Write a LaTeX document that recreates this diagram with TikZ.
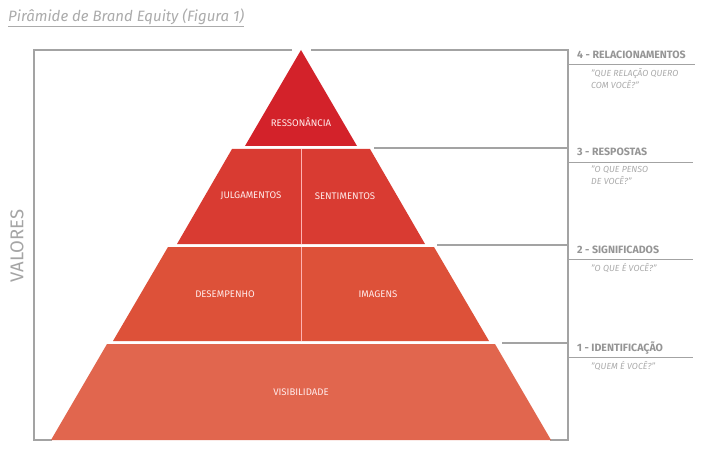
\documentclass[tikz,border=0pt]{standalone}
\usepackage{fontspec}
\setmainfont{Fira Sans}
\begin{document}
\begin{tikzpicture}[x=1pt,y=-1pt,
  frameline/.style={draw=lineGray,line width=1.1pt},
  tierlbl/.style={text=white!92!red,font=\fontsize{9.6}{10}\selectfont,inner sep=0pt},
  lvllbl/.style={text=lblGray,font=\bfseries\fontsize{10.6}{11}\selectfont,anchor=base west,inner sep=0pt},
  quote/.style={text=quoteGray,font=\itshape\fontsize{8.8}{12}\selectfont,anchor=north west,inner sep=0pt,align=left},
  divider/.style={draw=white!70!red,line width=0.9pt}]
\definecolor{lineGray}{HTML}{A3A3A3}
\definecolor{lblGray}{HTML}{959595}
\definecolor{quoteGray}{HTML}{ABABAB}
\definecolor{tierA}{HTML}{D3222A}
\definecolor{tierB}{HTML}{D93B32}
\definecolor{tierC}{HTML}{DD5139}
\definecolor{tierD}{HTML}{E1664E}
\useasboundingbox (0,0) rectangle (712,449);
\fill[white] (0,0) rectangle (712,449);
% title
\node[anchor=base west,inner sep=0pt,text=quoteGray,font=\itshape\fontsize{15}{17}\selectfont] (title) at (8,22) {\underline{Pirâmide de Brand Equity (Figura 1)}};
% corners
\coordinate (TL) at (34,50);
\coordinate (TR) at (568,50);
\coordinate (BL) at (34,440);
\coordinate (BR) at (568,440);
\coordinate (apexL) at (292,50);
\coordinate (apexR) at (311,50);
\coordinate (baseL) at (52,440);
\coordinate (baseR) at (550,440);
\draw[frameline] (apexL) -- (TL) -- (BL) -- (baseL);
\draw[frameline] (apexR) -- (TR) -- (BR) -- (baseR);
% tiers
\fill[tierA] (301,50) -- (357,146) -- (245,146) -- cycle;
\fill[tierB] (232,149) -- (370,149) -- (425,244) -- (177,244) -- cycle;
\fill[tierC] (168,247) -- (434,247) -- (489,341) -- (113,341) -- cycle;
\fill[tierD] (107,344) -- (495,344) -- (551,440) -- (51,440) -- cycle;
\draw[divider] (301,149) -- (301,244);
\draw[divider] (301,247) -- (301,341);
% tier labels
\node[tierlbl] (res) at (301,122) {RESSONÂNCIA};
\node[tierlbl] (jul) at (251,196) {JULGAMENTOS};
\node[tierlbl] (sen) at (345,196) {SENTIMENTOS};
\node[tierlbl] (des) at (225,294) {DESEMPENHO};
\node[tierlbl] (ima) at (378,294) {IMAGENS};
\node[tierlbl] (vis) at (301,392) {VISIBILIDADE};
% VALORES
\node[rotate=90,text=lblGray!85,font=\fontsize{18.5}{20}\selectfont,inner sep=0pt] (valores) at (17,246) {VALORES};
% level lines
\coordinate (l3a) at (374,148); \coordinate (l3b) at (568,148);
\coordinate (l2a) at (437,245); \coordinate (l2b) at (568,245);
\coordinate (l1a) at (502,343); \coordinate (l1b) at (568,343);
\draw[frameline] (l3a) -- (l3b);
\draw[frameline] (l2a) -- (l2b);
\draw[frameline] (l1a) -- (l1b);
% underlines
\coordinate (u4a) at (568,64); \coordinate (u4b) at (695,64);
\coordinate (u3a) at (568,162); \coordinate (u3b) at (693,162);
\coordinate (u2a) at (568,259); \coordinate (u2b) at (693,259);
\coordinate (u1a) at (568,357); \coordinate (u1b) at (693,357);
\draw[frameline,line width=0.9pt] (u4a) -- (u4b);
\draw[frameline,line width=0.9pt] (u3a) -- (u3b);
\draw[frameline,line width=0.9pt] (u2a) -- (u2b);
\draw[frameline,line width=0.9pt] (u1a) -- (u1b);
% level labels
\node[lvllbl] (lv4) at (577,59) {4 - RELACIONAMENTOS};
\node[lvllbl] (lv3) at (577,156) {3 - RESPOSTAS};
\node[lvllbl] (lv2) at (577,254) {2 - SIGNIFICADOS};
\node[lvllbl] (lv1) at (577,351) {1 - IDENTIFICAÇÃO};
\node[quote] (q4) at (591,68) {"QUE RELAÇÃO QUERO\\COM VOCÊ?"};
\node[quote] (q3) at (591,166) {"O QUE PENSO\\DE VOCÊ?"};
\node[quote] (q2) at (591,263) {"O QUE É VOCÊ?"};
\node[quote] (q1) at (591,361) {"QUEM É VOCÊ?"};
\end{tikzpicture}
\end{document}
